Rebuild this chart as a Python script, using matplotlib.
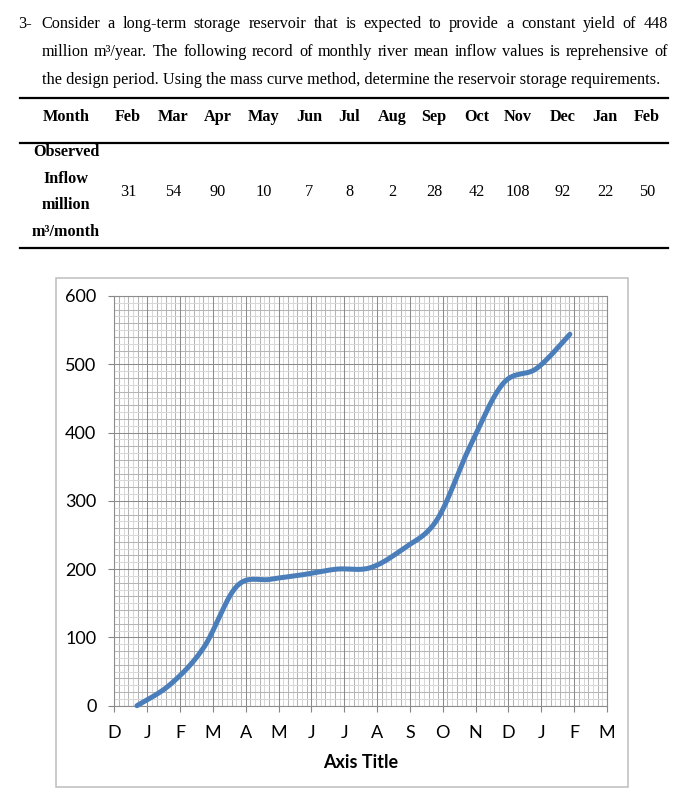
import numpy as np
import matplotlib
matplotlib.use("Agg")
import matplotlib.pyplot as plt
from matplotlib.transforms import IdentityTransform
from matplotlib.patches import Rectangle
from matplotlib.lines import Line2D

W, H = 681, 797
SERIF = "Liberation Serif"

# ---- data ----
months = ["Feb", "Mar", "Apr", "May", "Jun", "Jul", "Aug", "Sep", "Oct", "Nov", "Dec", "Jan", "Feb"]
inflow = [31, 54, 90, 10, 7, 8, 2, 28, 42, 108, 92, 22, 50]
axis_letters = ["D", "J", "F", "M", "A", "M", "J", "J", "A", "S", "O", "N", "D", "J", "F", "M"]
# position of each mass-curve point along the month axis (0 = start of Dec)
point_month = [0.69, 1.70, 2.72, 3.73, 4.74, 5.76, 6.77, 7.79, 8.80, 9.82, 10.83, 11.84, 12.86, 13.87]
mass = np.concatenate([[0], np.cumsum(inflow)])
y_ticks = [0, 100, 200, 300, 400, 500, 600]

para_line1 = "Consider a long-term storage reservoir that is expected to provide a constant yield of 448"
para_line2 = "million m\u00b3/year. The following record of monthly river mean inflow values is reprehensive of"
para_line3 = "the design period. Using the mass curve method, determine the reservoir storage requirements."

# ---- layout (pixels) ----
col_x = [128, 173, 218, 264, 309, 349, 392, 434, 477, 518, 563, 605, 647]
first_col_x = 66

plt.rcParams["font.family"] = ["Lato", "DejaVu Sans"]
fig = plt.figure(figsize=(W / 100, H / 100), dpi=100)
ident = IdentityTransform()
rend = fig.canvas.get_renderer()


def ftext(x, y, s, **kw):
    # place text in image pixel coords (y measured from the top)
    return fig.text(x, H - y, s, transform=ident, **kw)


# pick body font size so the last (unjustified) line spans the same width
probe = ftext(0, 0, para_line3, fontsize=12, family=SERIF)
size = 12 * 616 / probe.get_window_extent(rend).width
probe.remove()


def justified(text, x0, x1, y):
    words = text.split(" ")
    objs = [ftext(0, y, w, fontsize=size, family=SERIF, va="baseline") for w in words]
    widths = [o.get_window_extent(rend).width for o in objs]
    gap = (x1 - x0 - sum(widths)) / (len(words) - 1)
    x = x0
    for o, w in zip(objs, widths):
        o.set_x(x)
        x += w + gap


ftext(18, 27.5, "3-", fontsize=size, family=SERIF, va="baseline")
justified(para_line1, 41.5, 668, 27.5)
justified(para_line2, 41.5, 668, 55.5)
ftext(41.5, 83.5, para_line3, fontsize=size, family=SERIF, va="baseline")

# table rules
for yy in [97.7, 143.3, 248.3]:
    fig.add_artist(Line2D([20, 668], [H - yy, H - yy], transform=ident, color="black", lw=1.6))

# table header and values
ftext(first_col_x, 116.7, "Month", fontsize=size, family=SERIF, weight="bold", ha="center", va="center")
for x, m, v in zip(col_x, months, inflow):
    ftext(x, 116.7, m, fontsize=size, family=SERIF, weight="bold", ha="center", va="center")
    ftext(x, 191.7, str(v), fontsize=size, family=SERIF, ha="center", va="center")
for yy, s in zip([152.3, 179.3, 205, 231.7], ["Observed", "Inflow", "million", "m\u00b3/month"]):
    ftext(first_col_x, yy, s, fontsize=size, family=SERIF, weight="bold", ha="center", va="center")

# chart frame
fig.add_artist(Rectangle((56, H - 787), 572, 509, transform=ident, fill=False,
                         edgecolor="#bdbdbd", lw=1.1))

# ---- chart ----
ax = fig.add_axes([114.3 / W, 1 - 705.7 / H, (607 - 114.3) / W, (705.7 - 296) / H])
ax.set_xlim(0, 15)
ax.set_ylim(0, 600)

# minor grid (alternating shades like the source raster)
for k in range(15 * 7):
    if k % 7:
        ax.axvline(k / 7, color="#b5b5b5" if k % 2 else "#d8d8d8", lw=0.75, zorder=0)
for v in range(10, 600, 10):
    if v % 100:
        ax.axhline(v, color="#b5b5b5" if v % 20 == 0 else "#d8d8d8", lw=0.75, zorder=0)

ax.set_xticks(range(16))
ax.set_xticklabels(axis_letters)
ax.set_yticks(y_ticks)
ax.grid(True, which="major", color="#8c8c8c", lw=0.75, zorder=1)
ax.set_axisbelow(True)

for sp in ax.spines.values():
    sp.set_color("#8c8c8c")
    sp.set_linewidth(0.8)

ax.tick_params(axis="both", which="major", direction="out", length=4.3, width=0.8,
               color="#868686", labelsize=13, pad=8.6)
ax.tick_params(axis="x", pad=9.3)


def smooth(xs, ys, n=30):
    P = np.column_stack([xs, ys]).astype(float)
    Pp = np.vstack([P[0], P, P[-1]])
    out = []
    t = np.linspace(0, 1, n)[:, None]
    for i in range(len(P) - 1):
        p0, p1, p2, p3 = Pp[i], Pp[i + 1], Pp[i + 2], Pp[i + 3]
        c1 = p1 + (p2 - p0) / 6
        c2 = p2 - (p3 - p1) / 6
        seg = (1 - t) ** 3 * p1 + 3 * (1 - t) ** 2 * t * c1 + 3 * (1 - t) * t ** 2 * c2 + t ** 3 * p2
        out.append(seg if i == 0 else seg[1:])
    return np.vstack(out)


curve = smooth(point_month, mass)
ax.plot(curve[:, 0], curve[:, 1], color="#4a7ebb", lw=3.6, solid_capstyle="round", zorder=3, clip_on=False)

ax.set_xlabel("Axis Title", fontsize=13, fontweight="bold", labelpad=9.5)

fig.savefig("out.png", dpi=100)
